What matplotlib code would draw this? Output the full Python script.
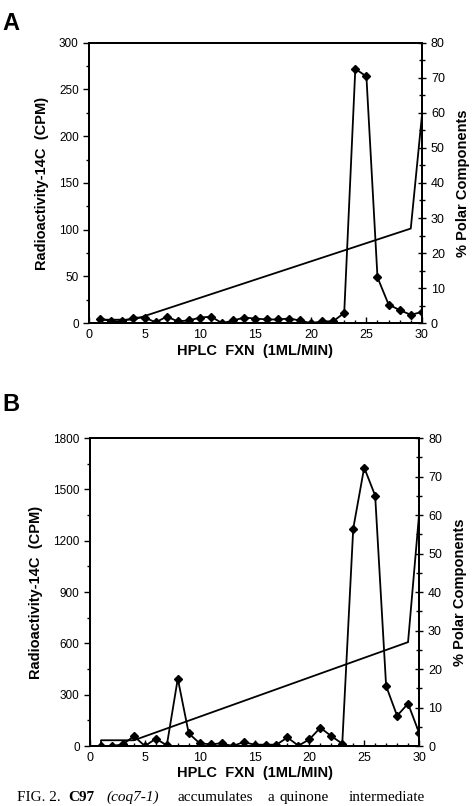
import matplotlib
matplotlib.use("Agg")
import matplotlib.pyplot as plt
from matplotlib.ticker import MultipleLocator

plt.rcParams['font.family'] = ['Liberation Sans', 'DejaVu Sans']

# fraction number (1 ml/min)
fxn = list(range(1, 31))

# panel A: radioactivity (CPM)
cpm_a = [5, 2, 2, 6, 6, 1, 7, 2, 3, 6, 7, 0, 3, 6, 5, 4, 4, 5, 3, 0,
         2, 2, 11, 272, 264, 49, 20, 14, 9, 12]
# panel B: radioactivity (CPM)
cpm_b = [0, 0, 10, 58, 0, 43, 4, 394, 74, 16, 10, 16, 0, 23, 8, 8, 8, 50, 2, 39,
         107, 58, 14, 1271, 1628, 1464, 351, 177, 248, 78]

# solvent gradient (% polar components), breakpoints only
grad_x_a = [1, 4, 29, 30]
grad_y_a = [1, 1, 27, 59]
grad_x_b = [1, 1, 4, 29, 30]
grad_y_b = [0, 1.5, 1.5, 27, 60]

# caption words at the bottom of the page
caption = [('FIG. 2.', 'normal', 'normal', 17),
           ('C97', 'bold', 'normal', 68),
           ('(coq7-1)', 'normal', 'italic', 106),
           ('accumulates', 'normal', 'normal', 178),
           ('a', 'normal', 'normal', 268),
           ('quinone', 'normal', 'normal', 280),
           ('intermediate', 'normal', 'normal', 349)]

fig = plt.figure(figsize=(4.74, 8.06), dpi=100)


def draw_panel(rect, cpm, gx, gy, ymax, ystep, yminor):
    ax = fig.add_axes(rect)
    ax.plot(fxn, cpm, color='black', lw=1.3, marker='D', ms=3.6)
    ax.set_xlim(0, 30)
    ax.set_ylim(0, ymax)
    ax.xaxis.set_major_locator(MultipleLocator(5))
    ax.xaxis.set_minor_locator(MultipleLocator(1))
    ax.yaxis.set_major_locator(MultipleLocator(ystep))
    ax.yaxis.set_minor_locator(MultipleLocator(yminor))
    ax.tick_params(axis='x', which='both', direction='in', labelsize=9, pad=4)
    ax.tick_params(axis='x', which='major', length=4, width=1)
    ax.tick_params(axis='x', which='minor', length=2.5, width=1)
    ax.tick_params(axis='y', which='both', direction='out', labelsize=8.5, width=1)
    ax.tick_params(axis='y', which='major', length=4)
    ax.tick_params(axis='y', which='minor', length=2.5)
    for s in ax.spines.values():
        s.set_linewidth(1.4)
    ax.set_xlabel('HPLC  FXN  (1ML/MIN)', fontsize=10.5, fontweight='bold', labelpad=2)
    ax.set_ylabel('Radioactivity-14C  (CPM)', fontsize=10.5, fontweight='bold', labelpad=7)

    ax2 = ax.twinx()
    ax2.plot(gx, gy, color='black', lw=1.3)
    ax2.set_ylim(0, 80)
    ax2.yaxis.set_major_locator(MultipleLocator(10))
    ax2.yaxis.set_minor_locator(MultipleLocator(5))
    ax2.tick_params(axis='y', which='both', direction='inout', labelsize=9, width=1)
    ax2.tick_params(axis='y', which='major', length=6)
    ax2.tick_params(axis='y', which='minor', length=4)
    ax2.set_ylabel('% Polar Components', fontsize=10.5, fontweight='bold', labelpad=8)
    for s in ax2.spines.values():
        s.set_linewidth(1.4)
    return ax


draw_panel([0.188, 0.599, 0.702, 0.348], cpm_a, grad_x_a, grad_y_a, 300, 50, 25)
draw_panel([0.190, 0.0744, 0.694, 0.382], cpm_b, grad_x_b, grad_y_b, 1800, 300, 150)

fig.text(0.005, 0.985, 'A', fontsize=17, fontweight='bold', va='top')
fig.text(0.005, 0.512, 'B', fontsize=17, fontweight='bold', va='top')

for word, weight, style, xpx in caption:
    fig.text(xpx / 474, 1 - 801 / 806, word, fontsize=11, fontweight=weight,
             fontstyle=style, family=['Liberation Serif', 'DejaVu Serif'],
             va='baseline')

fig.savefig('out.png', dpi=100)
